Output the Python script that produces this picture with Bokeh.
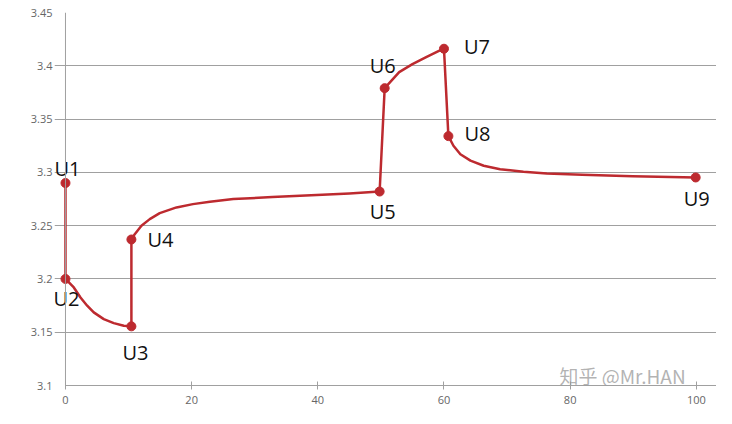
from bokeh.plotting import figure
from bokeh.models import Range1d, FixedTicker, Label, ColumnDataSource, Span
from bokeh.core.properties import value
from bokeh.embed import file_html
from bokeh.resources import INLINE

# full traced curve (time, voltage)
line_x = [0, 0, 1.32, 2.38, 3.44, 4.48, 6.07, 7.65, 9.24, 10.45,
          10.45, 10.98, 12.04, 13.36, 14.94, 17.6, 20.2, 22.9, 26.6, 32.8, 40.7, 45.0, 49.8,
          50.6, 52.9, 55.0, 57.1, 59.2, 60.0,
          60.7, 61.5, 62.6, 64.2, 66.3, 68.9, 72.6, 76.3, 81.9, 89.9, 99.9]
line_y = [3.29, 3.20, 3.192, 3.1826, 3.1749, 3.1686, 3.1623, 3.1585, 3.1561, 3.1555,
          3.237, 3.242, 3.2499, 3.2561, 3.2617, 3.2671, 3.2702, 3.2724, 3.2749, 3.2768, 3.2790, 3.2802, 3.282,
          3.379, 3.394, 3.4015, 3.4078, 3.414, 3.416,
          3.334, 3.325, 3.317, 3.311, 3.3062, 3.303, 3.3006, 3.299, 3.2977, 3.2963, 3.2952]

# labelled key points
key_names = ["U1", "U2", "U3", "U4", "U5", "U6", "U7", "U8", "U9"]
key_x = [0, 0, 10.45, 10.45, 49.8, 50.6, 60.0, 60.7, 99.9]
key_y = [3.29, 3.20, 3.1555, 3.237, 3.282, 3.379, 3.416, 3.334, 3.2952]

x_ticks = [0, 20, 40, 60, 80, 100]
y_ticks = [3.1, 3.15, 3.2, 3.25, 3.3, 3.35, 3.4, 3.45]
y_tick_labels = ["3.1", "3.15", "3.2", "3.25", "3.3", "3.35", "3.4", "3.45"]

RED = "#bd2a2f"
GRID = "#a0a0a0"

p = figure(width=716, height=408, output_backend="svg", toolbar_location=None,
           x_range=Range1d(-1.74, 103.2), y_range=Range1d(3.1, 3.45),
           min_border_left=54, min_border_right=0, min_border_top=12,
           min_border_bottom=23)
p.outline_line_color = None
p.background_fill_color = "white"
p.border_fill_color = "white"

p.xgrid.grid_line_color = None
p.ygrid.grid_line_color = GRID
p.ygrid.grid_line_width = 1

p.xaxis.ticker = FixedTicker(ticks=x_ticks)
p.yaxis.ticker = FixedTicker(ticks=y_ticks)
p.yaxis.major_label_overrides = {v: s for v, s in zip(y_ticks, y_tick_labels)}
p.xaxis.bounds = (0, 103.2)
for ax in (p.xaxis, p.yaxis):
    ax.axis_line_color = GRID
    ax.major_tick_line_color = GRID
    ax.minor_tick_line_color = None
    ax.major_label_text_font = "Open Sans"
    ax.major_label_text_font_size = "11px"
    ax.major_label_text_color = "#666666"
p.xaxis.major_tick_in = 4
p.xaxis.major_tick_out = 4
p.xaxis.major_label_standoff = 6
p.yaxis.axis_line_color = None
p.yaxis.major_tick_in = 0
p.yaxis.major_tick_out = 0
p.yaxis.major_label_standoff = 2

# vertical axis line at x = 0
p.add_layout(Span(location=0, dimension="height", line_color=GRID, line_width=1))

p.line(line_x, line_y, line_color=RED, line_width=2.5, line_join="round")

src = ColumnDataSource(dict(x=key_x, y=key_y, name=key_names))
p.scatter("x", "y", source=src, size=9, fill_color=RED, line_color=RED)

# label placements (screen offsets)
x_off = [2, 1, 4, 16, 3, -2, 20, 16, 1]
y_off = [-15, 20, 26, 0, 20, -23, -2, -3, 21]
align = ["center", "center", "center", "left", "center", "center", "left", "left", "center"]
lab = ColumnDataSource(dict(x=key_x, y=key_y, name=key_names, xo=x_off, yo=y_off, al=align))
p.text("x", "y", text="name", source=lab, x_offset="xo", y_offset="yo",
       text_align="al", text_baseline="middle", text_font=value("Open Sans"),
       text_font_size="20px", text_color="#111111")

wm = Label(x=78.3, y=3.1095, text="知乎 @Mr.HAN", text_font="Noto Sans CJK SC",
           text_font_size="19px", text_color="#9a9a9a", text_alpha=0.75,
           text_baseline="middle")
p.add_layout(wm)

open("out.html", "w").write(file_html(p, INLINE))
